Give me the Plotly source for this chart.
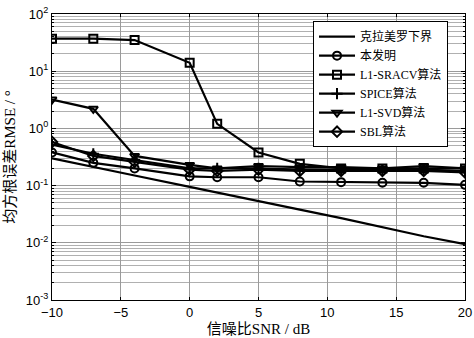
import plotly.graph_objects as go

# SNR sweep (dB) and RMSE results (degrees)
snr = [-10, -7, -4, 0, 2, 5, 8, 11, 14, 17, 20]
crb = [0.30, 0.21, 0.15, 0.095, 0.075, 0.053, 0.038, 0.027, 0.019, 0.013, 0.0095]
proposed = [0.38, 0.25, 0.20, 0.145, 0.14, 0.14, 0.118, 0.115, 0.112, 0.112, 0.103]
l1_sracv = [37, 37, 35, 14, 1.2, 0.38, 0.24, 0.20, 0.20, 0.20, 0.20]
spice = [0.52, 0.36, 0.28, 0.20, 0.20, 0.20, 0.19, 0.19, 0.19, 0.19, 0.18]
l1_svd = [3.2, 2.2, 0.33, 0.23, 0.20, 0.22, 0.21, 0.21, 0.20, 0.22, 0.20]
sbl = [0.58, 0.33, 0.26, 0.19, 0.18, 0.19, 0.18, 0.18, 0.18, 0.18, 0.17]

names = ["克拉美罗下界", "本发明", "L1-SRACV算法", "SPICE算法", "L1-SVD算法", "SBL算法"]
series = [crb, proposed, l1_sracv, spice, l1_svd, sbl]
symbols = [None, "circle-open", "square-open", "cross-thin-open", "triangle-down-open", "diamond-open"]

x_ticks = [-10, -5, 0, 5, 10, 15, 20]
y_decades = [-3, -2, -1, 0, 1, 2]

serif = "Liberation Serif, Noto Sans CJK SC, serif"

fig = go.Figure()
for name, vals, sym in zip(names, series, symbols):
    if sym is None:
        fig.add_trace(go.Scatter(x=snr, y=vals, name=name, mode="lines",
                                 line=dict(color="black", width=2.2)))
    else:
        fig.add_trace(go.Scatter(x=snr, y=vals, name=name, mode="lines+markers",
                                 line=dict(color="black", width=2.2),
                                 marker=dict(symbol=sym, size=8, color="black",
                                             line=dict(color="black", width=2))))

minor_vals = [m * 10 ** d for d in y_decades[:-1] for m in range(2, 10)]

fig.update_layout(
    template="none",
    width=474, height=338,
    margin=dict(l=52, r=9, t=14, b=38),
    paper_bgcolor="white", plot_bgcolor="white",
    font=dict(family="Liberation Sans, Arial, sans-serif", color="black"),
    showlegend=True,
    legend=dict(x=0.632, y=0.975, xanchor="left", yanchor="top",
                bgcolor="white", bordercolor="black", borderwidth=1,
                font=dict(family=serif, size=12),
                tracegroupgap=0, itemwidth=36),
    xaxis=dict(
        range=[-10, 20], tickvals=x_ticks, ticks="inside", ticklen=3,
        tickcolor="black", tickfont=dict(size=13), ticklabelstandoff=0,
        showgrid=True, gridcolor="#9a9a9a", gridwidth=1,
        showline=True, linecolor="black", linewidth=1, mirror="ticks",
        zeroline=False, automargin=False,
        title=dict(text="信噪比SNR / dB", standoff=4,
                   font=dict(family=serif, size=15)),
    ),
    yaxis=dict(
        type="log", range=[-3, 2],
        tickvals=[10 ** d for d in y_decades],
        ticktext=[f"10<sup>{d}</sup>" for d in y_decades],
        ticks="inside", ticklen=4, tickcolor="black", tickfont=dict(size=13),
        showgrid=True, gridcolor="#9a9a9a", gridwidth=1,
        showline=True, linecolor="black", linewidth=1, mirror="ticks",
        zeroline=False, automargin=False,
        minor=dict(tickmode="array", tickvals=minor_vals, ticks="inside", ticklen=2,
                   tickcolor="black", showgrid=True, gridcolor="#b0b0b0", gridwidth=1),
        title=dict(text="均方根误差RMSE / °", standoff=6,
                   font=dict(family=serif, size=15)),
    ),
)

fig.write_html("out.html")
